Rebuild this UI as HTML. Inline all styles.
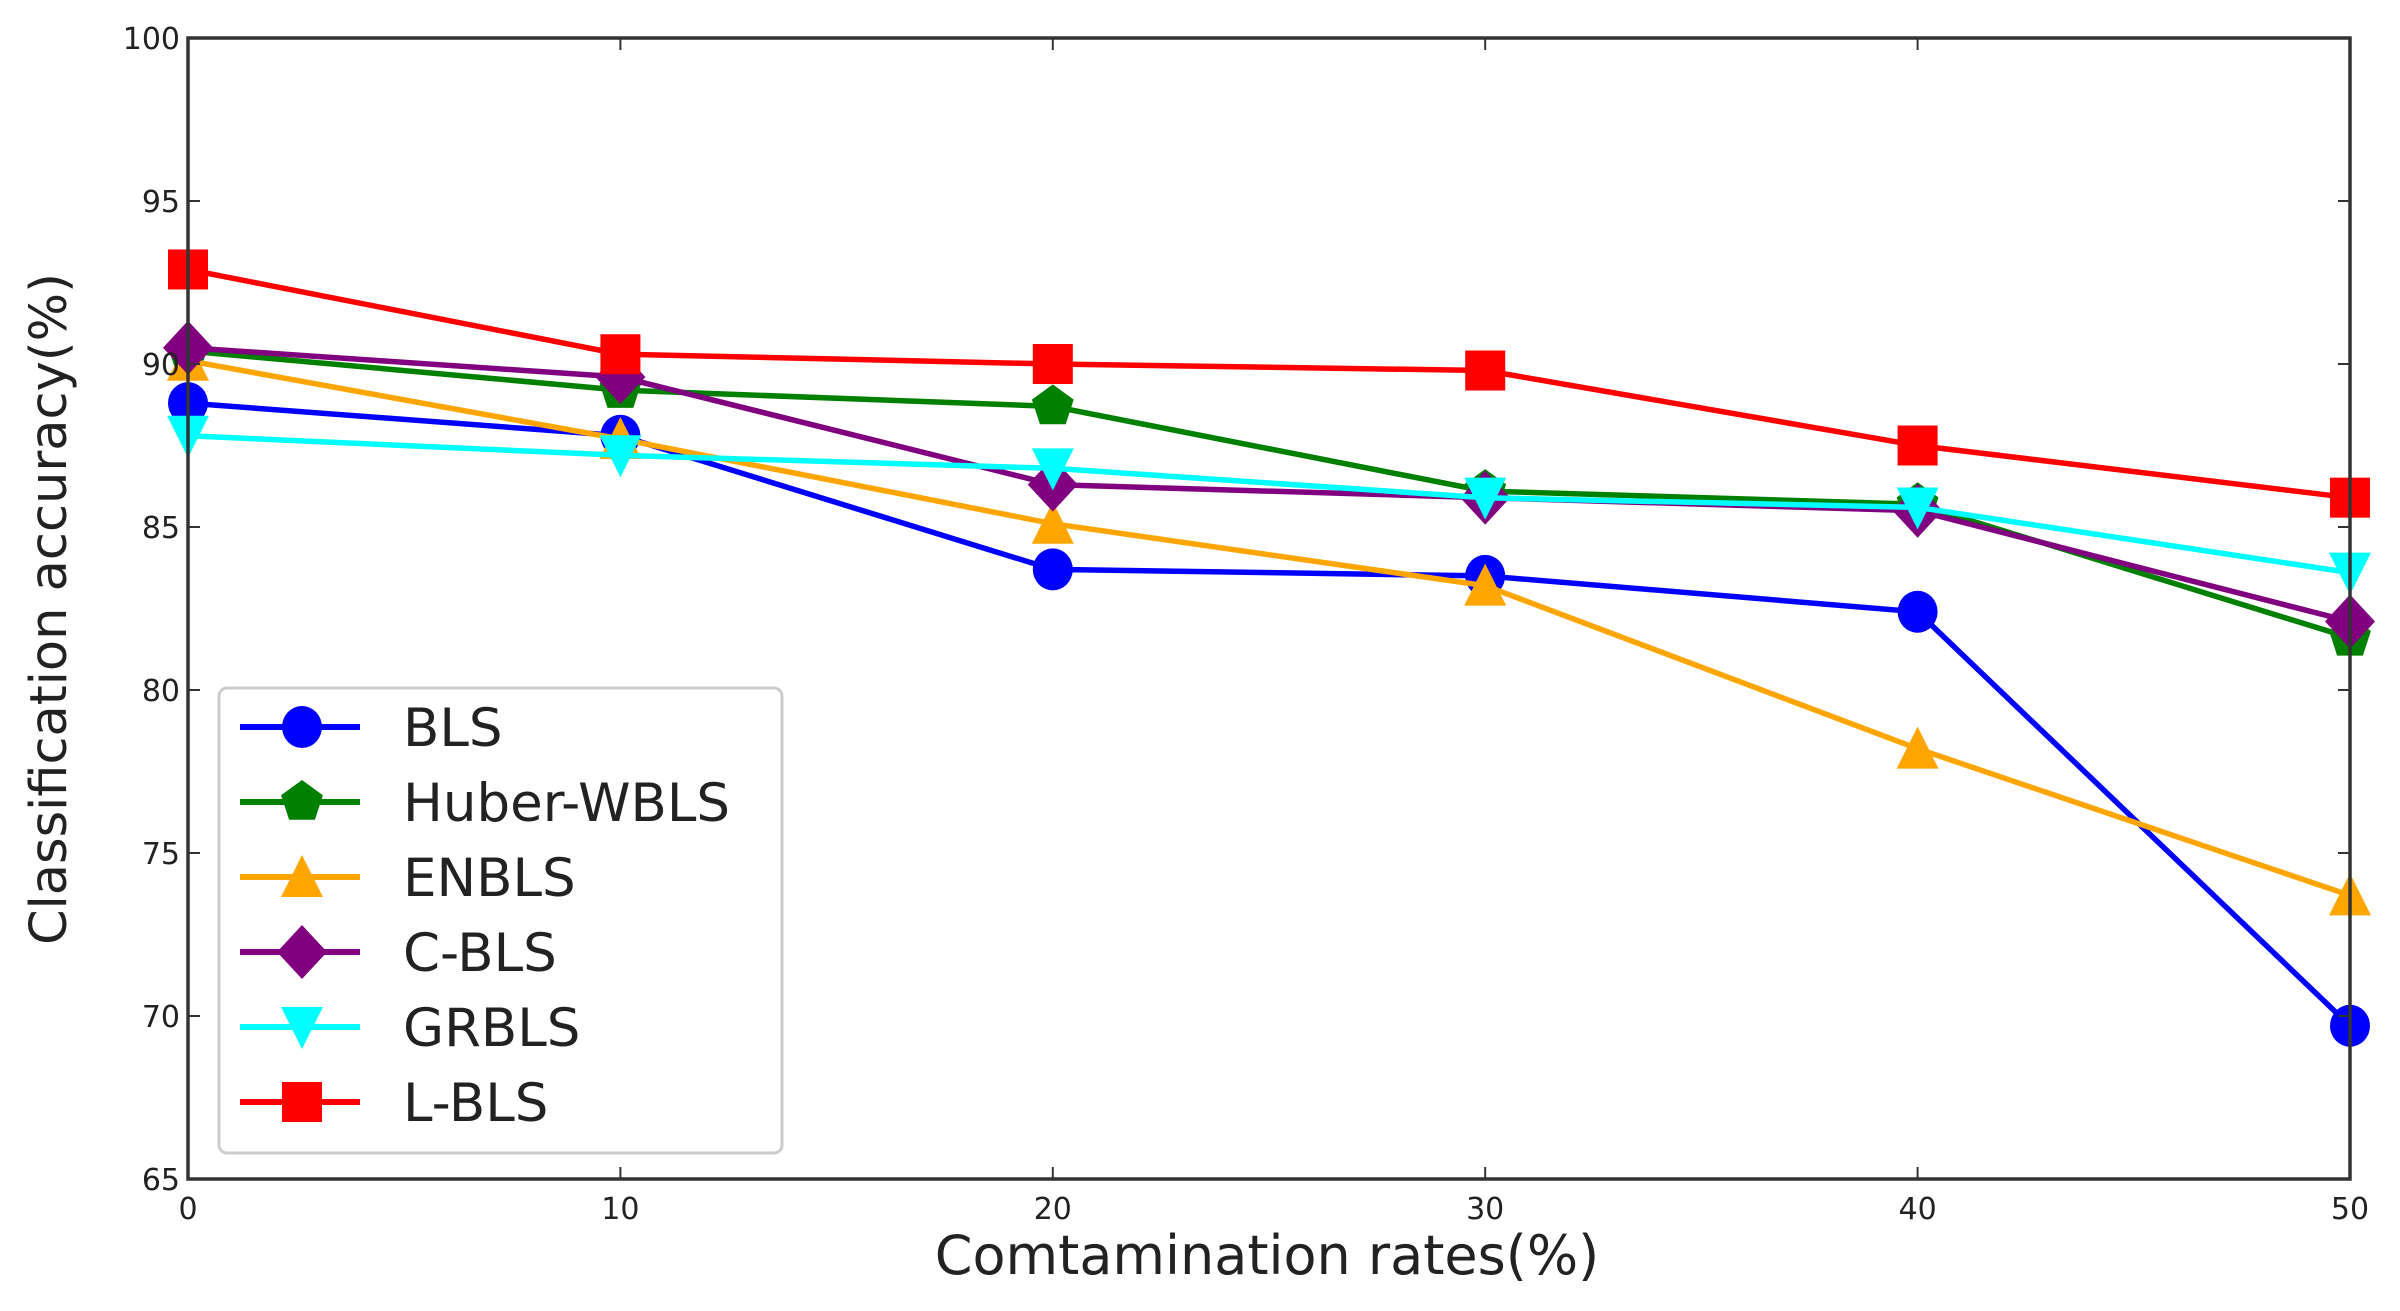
<!DOCTYPE html>
<html><head><meta charset="utf-8"><style>
html,body{margin:0;padding:0;background:#fff;}
svg{display:block;}
text{font-family:"DejaVu Sans","Liberation Sans",sans-serif;fill:#222;}
</style></head><body>
<svg id="s" width="2400" height="1311" viewBox="0 0 2400 1311" xmlns="http://www.w3.org/2000/svg">
<rect width="2400" height="1311" fill="#fff"/>
<g id="g"></g>
</svg>
<script>
var X0=188,X1=2350,Y100=38,Y65=1179;
function px(v){return X0+(X1-X0)*v/50;}
function py(v){return Y100+(Y65-Y100)*(100-v)/35;}
var h='';
var xs=[0,10,20,30,40,50];
var S=[
['BLS','#0000ff','o',[88.8,87.8,83.7,83.5,82.4,69.7]],
['Huber-WBLS','#008000','p',[90.4,89.2,88.7,86.1,85.7,81.6]],
['ENBLS','#ffa500','^',[90.1,87.7,85.1,83.2,78.2,73.7]],
['C-BLS','#800080','D',[90.5,89.6,86.3,85.9,85.5,82.1]],
['GRBLS','#00ffff','v',[87.8,87.2,86.8,85.9,85.6,83.6]],
['L-BLS','#ff0000','s',[92.9,90.3,90.0,89.8,87.5,85.9]]
];
function mk(t,x,y,c){
 var r=20;
 if(t=='o')return '<ellipse cx="'+x+'" cy="'+y+'" rx="'+r+'" ry="'+(r+1)+'" fill="'+c+'"/>';
 if(t=='s')return '<rect x="'+(x-r)+'" y="'+(y-r)+'" width="'+2*r+'" height="'+2*r+'" fill="'+c+'"/>';
 if(t=='D')return '<polygon points="'+x+','+(y-27)+' '+(x+25)+','+y+' '+x+','+(y+27)+' '+(x-25)+','+y+'" fill="'+c+'"/>';
 if(t=='^')return '<polygon points="'+x+','+(y-22)+' '+(x+21)+','+(y+20)+' '+(x-21)+','+(y+20)+'" fill="'+c+'"/>';
 if(t=='v')return '<polygon points="'+x+','+(y+22)+' '+(x+21)+','+(y-20)+' '+(x-21)+','+(y-20)+'" fill="'+c+'"/>';
 if(t=='p'){var p=[];for(var i=0;i<5;i++){var a=-Math.PI/2+i*2*Math.PI/5;p.push((x+22*Math.cos(a)).toFixed(1)+','+(y+22*Math.sin(a)).toFixed(1));}return '<polygon points="'+p.join(' ')+'" fill="'+c+'"/>';}
}
S.forEach(function(s){
 var pts=s[3].map(function(v,i){return px(xs[i]).toFixed(1)+','+py(v).toFixed(1);}).join(' ');
 h+='<polyline points="'+pts+'" fill="none" stroke="'+s[1]+'" stroke-width="5.5"/>';
 s[3].forEach(function(v,i){h+=mk(s[2],px(xs[i]),py(v),s[1]);});
});
h+='<rect x="'+X0+'" y="'+Y100+'" width="'+(X1-X0)+'" height="'+(Y65-Y100)+'" fill="none" stroke="#333" stroke-width="3.5"/>';
for(var v=0;v<=50;v+=10){var x=px(v);
 h+='<line x1="'+x+'" y1="'+Y65+'" x2="'+x+'" y2="'+(Y65-12)+'" stroke="#333" stroke-width="2"/>';
 h+='<line x1="'+x+'" y1="'+Y100+'" x2="'+x+'" y2="'+(Y100+12)+'" stroke="#333" stroke-width="2"/>';
 h+='<text x="'+x+'" y="'+(Y65+40)+'" font-size="30" text-anchor="middle">'+v+'</text>';}
for(var v=65;v<=100;v+=5){var y=py(v);
 h+='<line x1="'+X0+'" y1="'+y+'" x2="'+(X0+12)+'" y2="'+y+'" stroke="#333" stroke-width="2"/>';
 h+='<line x1="'+X1+'" y1="'+y+'" x2="'+(X1-12)+'" y2="'+y+'" stroke="#333" stroke-width="2"/>';
 h+='<text x="'+(X0-8)+'" y="'+(y+11)+'" font-size="30" text-anchor="end">'+v+'</text>';}
h+='<text x="1267" y="1274" font-size="54" text-anchor="middle">Comtamination rates(%)</text>';
h+='<text transform="translate(66,609) rotate(-90)" font-size="51" text-anchor="middle">Classification accuracy(%)</text>';
h+='<rect x="219" y="688" width="563" height="465" rx="8" fill="#fff" stroke="#ccc" stroke-width="3"/>';
S.forEach(function(s,i){var y=727+i*75;
 h+='<line x1="240" y1="'+y+'" x2="360" y2="'+y+'" stroke="'+s[1]+'" stroke-width="6"/>';
 h+=mk(s[2],302,y,s[1]);
 h+='<text x="403" y="'+(y+19)+'" font-size="53">'+s[0]+'</text>';});
document.getElementById('g').innerHTML=h;
</script>
</body></html>
